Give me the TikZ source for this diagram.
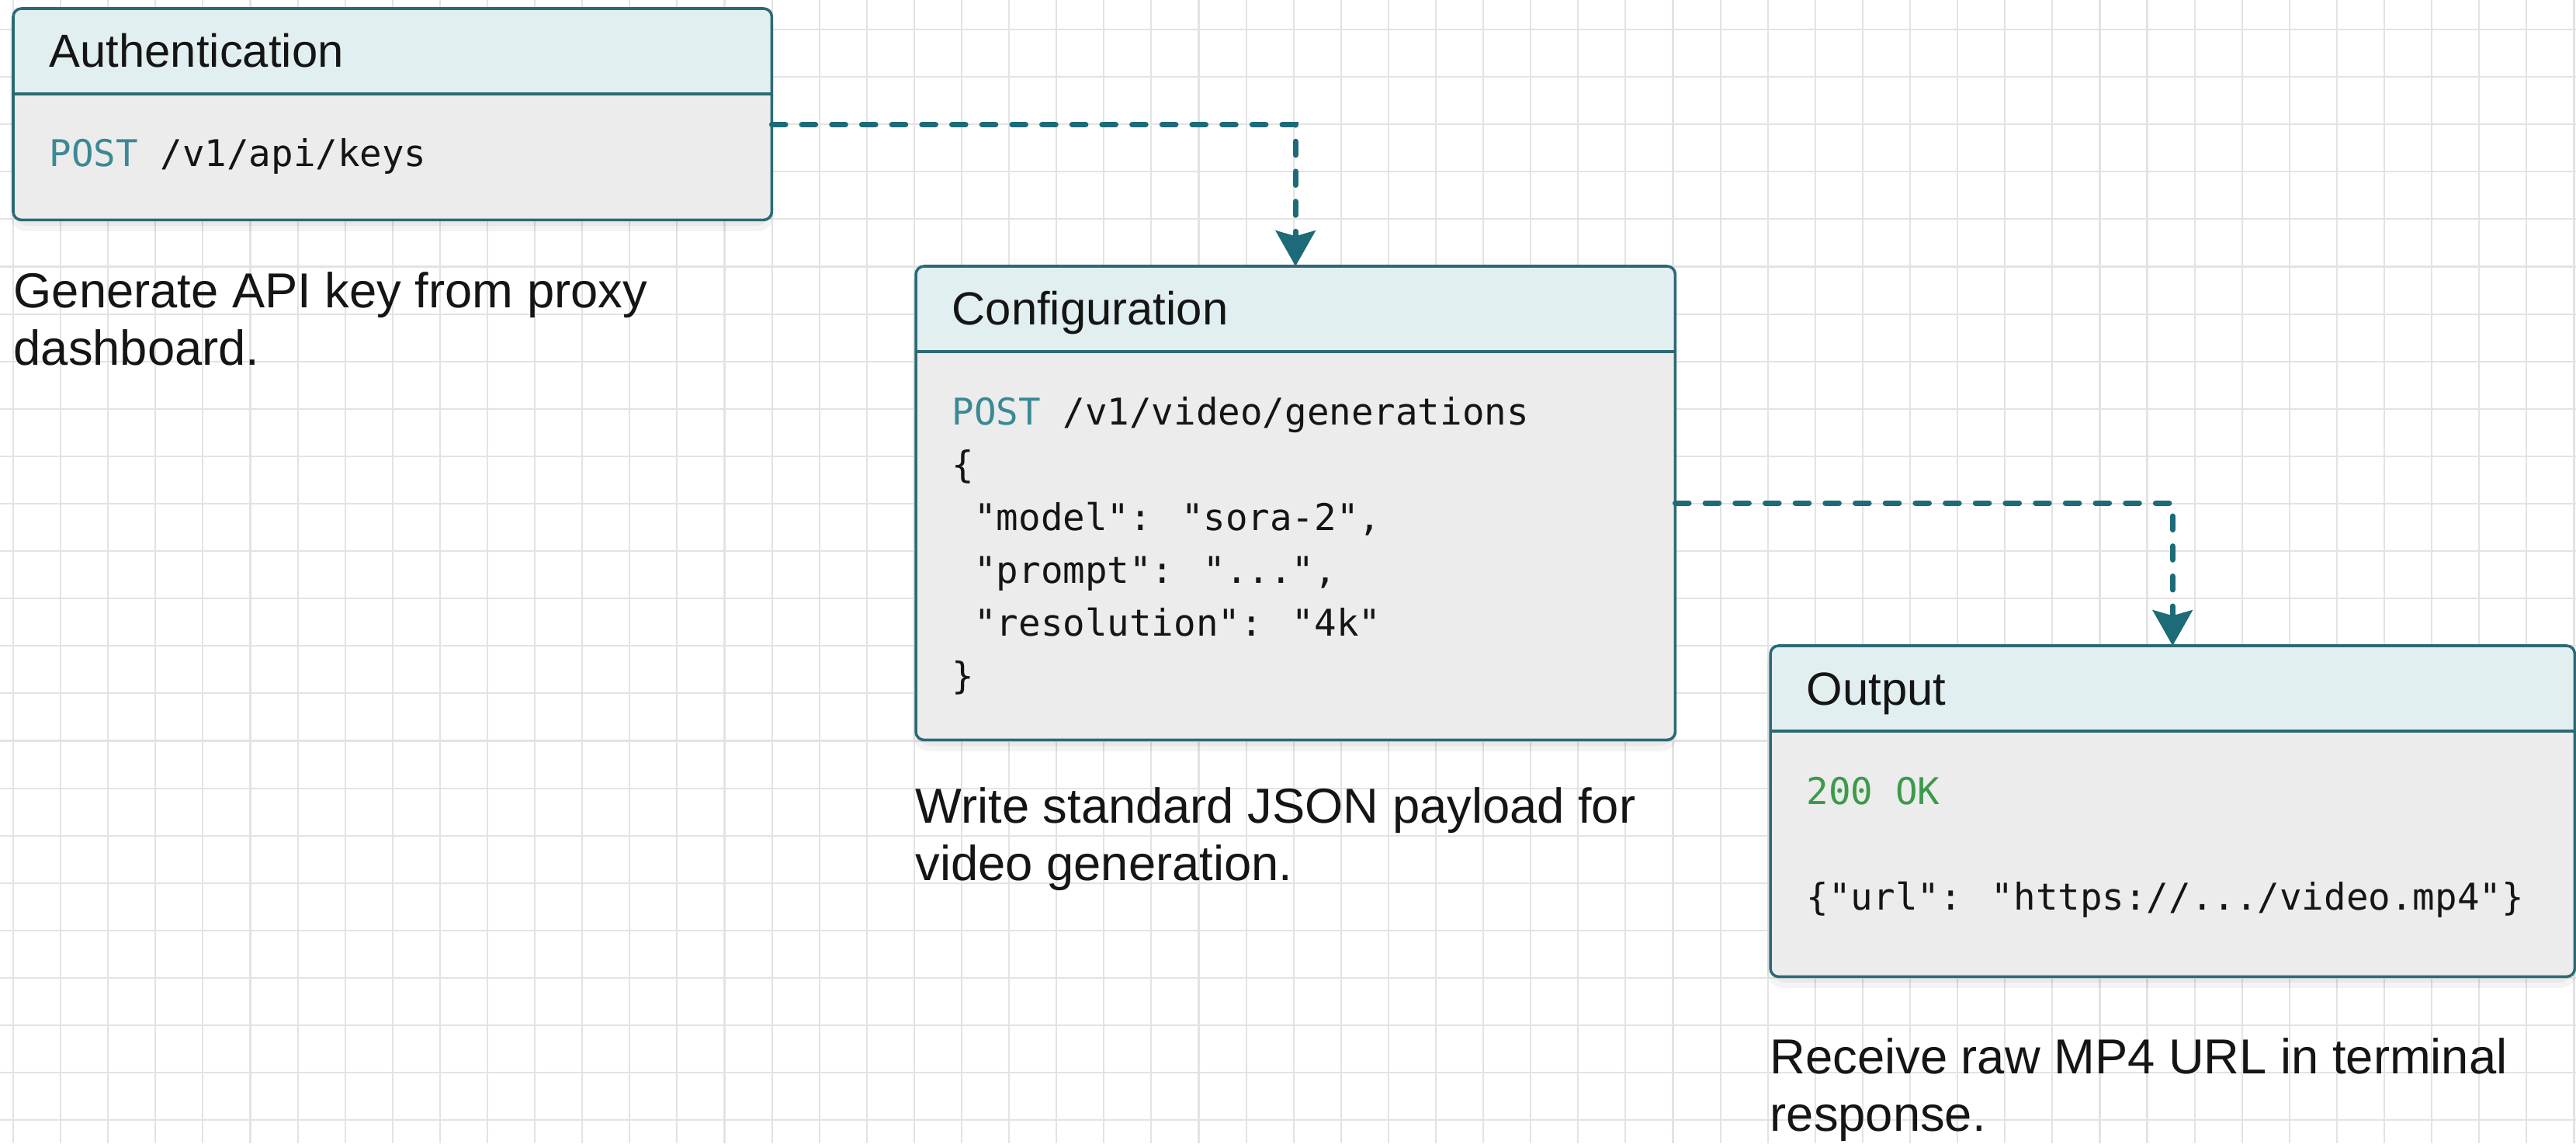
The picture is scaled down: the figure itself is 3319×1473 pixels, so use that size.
\documentclass[tikz,border=0pt]{standalone}
\usepackage{fontspec}
\setmainfont{Liberation Sans}
\newfontfamily\codefont{DejaVu Sans Mono}
\usetikzlibrary{arrows.meta,calc}
\definecolor{edgec}{HTML}{2B6A75}
\definecolor{flowc}{HTML}{1D6B78}
\definecolor{headbg}{HTML}{E2EFF1}
\definecolor{bodybg}{HTML}{ECECEC}
\definecolor{postc}{HTML}{3A8995}
\definecolor{okc}{HTML}{3C9A4A}
\definecolor{gridc}{HTML}{E3E3E3}
\definecolor{inkc}{HTML}{151515}
\tikzset{
  gridline/.style={draw=gridc, line width=0.6pt},
  box/.style={rectangle, rounded corners=3pt, fill=bodybg, inner sep=0pt, anchor=north west},
  boxedge/.style={draw=edgec, line width=1pt},
  headtext/.style={inner sep=0pt, text=inkc, font=\fontsize{17pt}{20pt}\selectfont},
  code/.style={inner sep=0pt, text=inkc, align=left, font=\codefont\fontsize{13.5pt}{19.35pt}\selectfont},
  caption/.style={inner sep=0pt, text=inkc, align=left, anchor=north west, font=\fontsize{18pt}{21pt}\selectfont},
  flow/.style={draw=flowc, line width=2pt, line cap=round, dash pattern=on 5pt off 6pt,
    -{Stealth[length=13pt,width=14.5pt,inset=2pt,fill=flowc]}},
  shade1/.style={fill=black, opacity=0.045, rounded corners=6pt},
}
% name, x, y, w, h, title
\newcommand\flowpanel[6]{%
  \fill[shade1] (#2-4,#3+3) rectangle (#2+#4+4,#3+#5+16);
  \fill[shade1] (#2-1,#3+3) rectangle (#2+#4+1,#3+#5+9);
  \node[box, minimum width={#4*0.01cm}, minimum height={#5*0.01cm}] (#1) at (#2,#3) {};
  \begin{scope}
    \clip[rounded corners=3pt] (#1.north west) rectangle (#1.south east);
    \fill[headbg] (#1.north west) rectangle ($(#1.north east)+(0,110)$);
  \end{scope}
  \draw[boxedge] ($(#1.north west)+(0,110)$) -- ($(#1.north east)+(0,110)$);
  \draw[boxedge, rounded corners=3pt] (#1.north west) rectangle (#1.south east);
  \node[headtext, anchor=base west] (#1-title) at ($(#1.north west)+(46,76)$) {#6};
}
\begin{document}
\begin{tikzpicture}[x=0.01cm, y=-0.01cm]
  \useasboundingbox (0,0) rectangle (3319,1473);
  \fill[white] (0,0) rectangle (3319,1473);
  % grid
  \foreach \k in {0,...,54} \draw[gridline] ({17+61.1*\k},0) -- ({17+61.1*\k},1473);
  \foreach \k in {0,...,23} \draw[gridline] (0,{38+61.1*\k}) -- (3319,{38+61.1*\k});

  % panels
  \flowpanel{auth}{17}{11}{976}{271}{Authentication}
  \flowpanel{conf}{1180}{343}{977}{609}{Configuration}
  \flowpanel{out}{2281}{832}{1035}{425}{Output}

  % bodies
  \node[code, anchor=west] (auth-code) at (63,201)
    {\textcolor{postc}{POST} /v1/api/keys};
  \node[code, anchor=west] (conf-code) at (1226,703)
    {\textcolor{postc}{POST} /v1/video/generations\\
     \{\\
     \phantom{x}"model": "sora-2",\\
     \phantom{x}"prompt": "...",\\
     \phantom{x}"resolution": "4k"\\
     \}};
  \node[code, anchor=west] (out-code) at (2327,1092)
    {\textcolor{okc}{200 OK}\\[19.35pt]
     \{"url": "https://.../video.mp4"\}};

  % captions
  \node[caption] (auth-note) at (17,350) {Generate API key from proxy\\dashboard.};
  \node[caption] (conf-note) at (1179,1014) {Write standard JSON payload for\\video generation.};
  \node[caption] (out-note) at (2280,1337) {Receive raw MP4 URL in terminal\\response.};

  % connectors
  \draw[flow] ([yshift=-0.135cm]auth.east) -| (conf.north);
  \draw[flow] (conf.east) -| (out.north);
\end{tikzpicture}
\end{document}
